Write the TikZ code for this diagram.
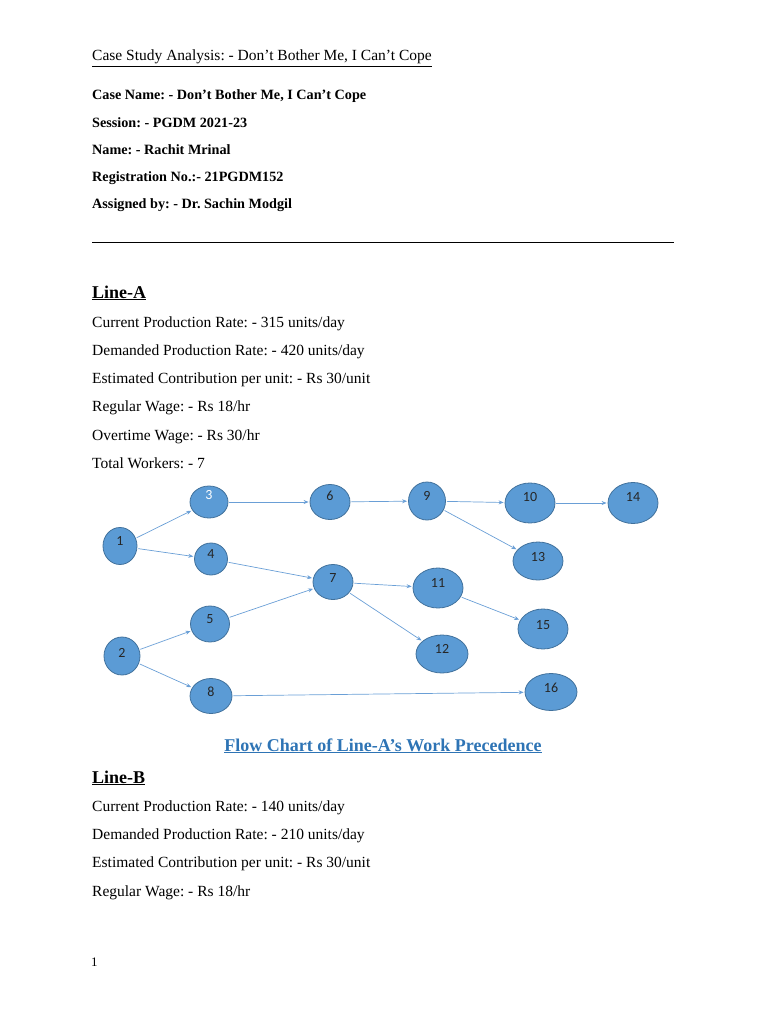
\documentclass[tikz,border=0pt]{standalone}
\usepackage{fontspec}
\setmainfont{Liberation Serif}
\newfontfamily\calibri{Carlito}
\usetikzlibrary{shapes.geometric,arrows.meta}
\definecolor{nodefill}{HTML}{5B9BD5}
\definecolor{nodeline}{HTML}{41719C}
\definecolor{edgecol}{HTML}{6A9FD6}
\definecolor{capblue}{HTML}{2E74B5}
\frenchspacing
\tikzset{
  txt/.style={anchor=base west, inner sep=0pt, font=\fontsize{15.5}{18}\selectfont},
  btxt/.style={anchor=base west, inner sep=0pt, font=\fontsize{14.2}{17}\selectfont\bfseries},
  head/.style={anchor=base west, inner sep=0pt, font=\fontsize{18}{21}\selectfont\bfseries},
  task/.style={ellipse, draw=nodeline, line width=0.8pt, fill=nodefill, inner sep=0pt},
  lbl/.style={inner sep=0pt, font=\calibri\fontsize{14}{16}\selectfont, text=black!85},
  link/.style={draw=edgecol, line width=0.7pt, -{Stealth[length=5pt,width=4pt]}, shorten >=1pt, shorten <=1pt},
}
\begin{document}
\begin{tikzpicture}[x=1pt,y=-1pt]
\useasboundingbox (0,0) rectangle (768,1024);
% header
\node[txt] (title) at (92,61) {\underline{Case Study Analysis: - Don’t Bother Me, I Can’t Cope}};
\node[btxt] (case) at (92,100) {Case Name: - Don’t Bother Me, I Can’t Cope};
\node[btxt] (sess) at (92,128) {Session: - PGDM 2021-23};
\node[btxt] (name) at (92,155) {Name: - Rachit Mrinal};
\node[btxt] (reg) at (92,182) {Registration No.:- 21PGDM152};
\node[btxt] (asg) at (92,209) {Assigned by: - Dr. Sachin Modgil};
\coordinate (ruleL) at (92,242);
\coordinate (ruleR) at (674,242);
\draw[line width=0.8pt] (ruleL) -- (ruleR);
% Line-A
\node[head] (lineA) at (92,298) {\underline{Line-A}};
\node[txt] (a1) at (92,327) {Current Production Rate: - 315 units/day};
\node[txt] (a2) at (92,355) {Demanded Production Rate: - 420 units/day};
\node[txt] (a3) at (92,383) {Estimated Contribution per unit: - Rs 30/unit};
\node[txt] (a4) at (92,411) {Regular Wage: - Rs 18/hr};
\node[txt] (a5) at (92,440) {Overtime Wage: - Rs 30/hr};
\node[txt] (a6) at (92,468) {Total Workers: - 7};
% flow chart nodes
\node[task, minimum width=34pt, minimum height=37pt, label={[lbl,yshift=5pt]center:1}] (n1) at (120,546) {};
\node[task, minimum width=36pt, minimum height=38pt, label={[lbl,yshift=3pt]center:2}] (n2) at (122,656) {};
\node[task, minimum width=38pt, minimum height=32pt, label={[lbl,text=white,yshift=7pt]center:3}] (n3) at (209,502) {};
\node[task, minimum width=33pt, minimum height=32pt, label={[lbl,yshift=5pt]center:4}] (n4) at (211,559) {};
\node[task, minimum width=39pt, minimum height=36pt, label={[lbl,yshift=5pt]center:5}] (n5) at (210,624) {};
\node[task, minimum width=40pt, minimum height=35pt, label={[lbl,yshift=6pt]center:6}] (n6) at (330,502) {};
\node[task, minimum width=40pt, minimum height=35pt, label={[lbl,yshift=4pt]center:7}] (n7) at (333,582) {};
\node[task, minimum width=42pt, minimum height=35pt, label={[lbl,yshift=4pt]center:8}] (n8) at (211,696) {};
\node[task, minimum width=37pt, minimum height=38pt, label={[lbl,yshift=5pt]center:9}] (n9) at (427,501) {};
\node[task, minimum width=50pt, minimum height=40pt, label={[lbl,yshift=6pt]center:10}] (n10) at (530,503) {};
\node[task, minimum width=50pt, minimum height=40pt, label={[lbl,yshift=5pt]center:11}] (n11) at (438,588) {};
\node[task, minimum width=52pt, minimum height=38pt, label={[lbl,yshift=5pt]center:12}] (n12) at (442,654) {};
\node[task, minimum width=50pt, minimum height=38pt, label={[lbl,yshift=4pt]center:13}] (n13) at (538,561) {};
\node[task, minimum width=50pt, minimum height=41pt, label={[lbl,yshift=6pt]center:14}] (n14) at (633,503) {};
\node[task, minimum width=50pt, minimum height=40pt, label={[lbl,yshift=4pt]center:15}] (n15) at (543,629) {};
\node[task, minimum width=52pt, minimum height=37pt, label={[lbl,yshift=4pt]center:16}] (n16) at (551,692) {};
% connectors
\draw[link] (n1) -- (n3);
\draw[link] (n1) -- (n4);
\draw[link] (n3) -- (n6);
\draw[link] (n6) -- (n9);
\draw[link] (n9) -- (n10);
\draw[link] (n10) -- (n14);
\draw[link] (n9) -- (n13);
\draw[link] (n4) -- (n7);
\draw[link] (n5) -- (n7);
\draw[link] (n7) -- (n11);
\draw[link] (n7) -- (n12);
\draw[link] (n11) -- (n15);
\draw[link] (n2) -- (n5);
\draw[link] (n2) -- (n8);
\draw[link] (n8) -- (n16);
% caption
\node[anchor=base, inner sep=0pt, font=\fontsize{18}{21}\selectfont\bfseries, text=capblue] (cap) at (383,751) {\underline{Flow Chart of Line-A’s Work Precedence}};
% Line-B
\node[head] (lineB) at (92,783) {\underline{Line-B}};
\node[txt] (b1) at (92,811) {Current Production Rate: - 140 units/day};
\node[txt] (b2) at (92,839) {Demanded Production Rate: - 210 units/day};
\node[txt] (b3) at (92,867) {Estimated Contribution per unit: - Rs 30/unit};
\node[txt] (b4) at (92,896) {Regular Wage: - Rs 18/hr};
% page number
\node[anchor=base west, inner sep=0pt, font=\fontsize{13}{15}\selectfont] (pg) at (91,966) {1};
\end{tikzpicture}
\end{document}
